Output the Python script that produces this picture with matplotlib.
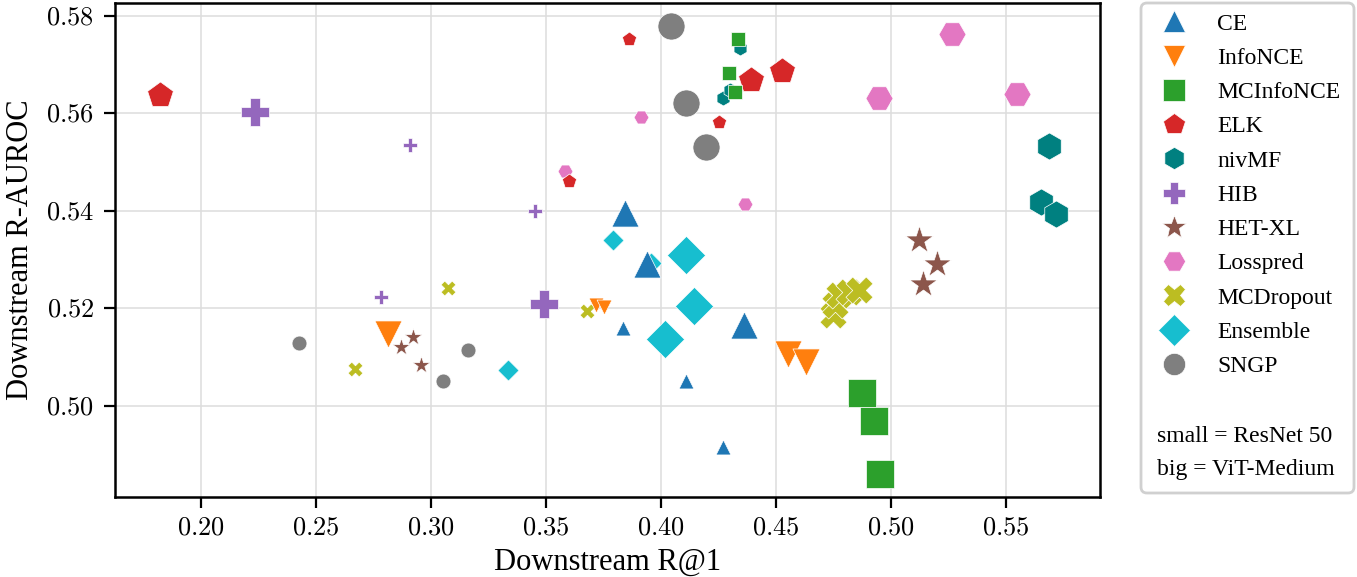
import numpy as np
import matplotlib
matplotlib.use("Agg")
import matplotlib.pyplot as plt
from matplotlib.lines import Line2D
from matplotlib.patches import FancyBboxPatch
from matplotlib.transforms import IdentityTransform

plt.rcParams['font.family'] = ['Liberation Serif', 'DejaVu Serif']
plt.rcParams['mathtext.fontset'] = 'cm'

# methods in legend order
methods = ['CE', 'InfoNCE', 'MCInfoNCE', 'ELK', 'nivMF', 'HIB', 'HET-XL',
           'Losspred', 'MCDropout', 'Ensemble', 'SNGP']
markers = ['^', 'v', 's', 'p', 'h', 'P', '*', 'H', 'X', 'D', 'o']
colors = ['#1f77b4', '#ff7f0e', '#2ca02c', '#d62728', '#008080', '#9467bd',
          '#8c564b', '#e377c2', '#bcbd22', '#17becf', '#7f7f7f']

# ResNet 50 (small markers): R@1, R-AUROC
small_x = {
    'CE': [0.3836, 0.4109, 0.4271],
    'InfoNCE': [0.3717, 0.3752],
    'MCInfoNCE': [0.4336, 0.4296, 0.4322],
    'ELK': [0.3862, 0.4252, 0.3601],
    'nivMF': [0.4343, 0.4268, 0.4300],
    'HIB': [0.2909, 0.3452, 0.2781],
    'HET-XL': [0.2868, 0.2923, 0.2955],
    'Losspred': [0.3912, 0.3583, 0.4365],
    'MCDropout': [0.3075, 0.2670, 0.3677],
    'Ensemble': [0.3793, 0.3336, 0.3957],
    'SNGP': [0.2426, 0.3160, 0.3053],
}
small_y = {
    'CE': [0.5159, 0.5050, 0.4916],
    'InfoNCE': [0.5206, 0.5202],
    'MCInfoNCE': [0.5753, 0.5683, 0.5644],
    'ELK': [0.5752, 0.5583, 0.5461],
    'nivMF': [0.5733, 0.5632, 0.5648],
    'HIB': [0.5534, 0.5399, 0.5223],
    'HET-XL': [0.5120, 0.5142, 0.5083],
    'Losspred': [0.5592, 0.5481, 0.5414],
    'MCDropout': [0.5242, 0.5075, 0.5194],
    'Ensemble': [0.5341, 0.5074, 0.5292],
    'SNGP': [0.5128, 0.5115, 0.5050],
}

# ViT-Medium (big markers)
big_x = {
    'CE': [0.3843, 0.3939, 0.4361],
    'InfoNCE': [0.2814, 0.4553, 0.4630],
    'MCInfoNCE': [0.4875, 0.4925, 0.4953],
    'ELK': [0.1822, 0.4390, 0.4525],
    'nivMF': [0.5688, 0.5651, 0.5717],
    'HIB': [0.2236, 0.3493],
    'HET-XL': [0.5123, 0.5201, 0.5138],
    'Losspred': [0.5264, 0.4949, 0.5549],
    'MCDropout': [0.4748, 0.4757, 0.4774, 0.4817, 0.4861],
    'Ensemble': [0.4109, 0.4145, 0.4019],
    'SNGP': [0.4042, 0.4109, 0.4194],
}
big_y = {
    'CE': [0.5395, 0.5291, 0.5165],
    'InfoNCE': [0.5148, 0.5107, 0.5089],
    'MCInfoNCE': [0.5027, 0.4968, 0.4861],
    'ELK': [0.5637, 0.5668, 0.5686],
    'nivMF': [0.5533, 0.5418, 0.5394],
    'HIB': [0.5603, 0.5209],
    'HET-XL': [0.5340, 0.5291, 0.5249],
    'Losspred': [0.5762, 0.5631, 0.5639],
    'MCDropout': [0.5187, 0.5206, 0.5227, 0.5233, 0.5237],
    'Ensemble': [0.5310, 0.5204, 0.5138],
    'SNGP': [0.5779, 0.5620, 0.5531],
}

W, H = 1357, 577
fig = plt.figure(figsize=(W / 100, H / 100), dpi=100)
ax = fig.add_axes([115 / W, 1 - 497 / H, 985 / W, 494 / H])

# draw last method first so the legend order ends on top
for m, mk, c in reversed(list(zip(methods, markers, colors))):
    k = 1.5 if mk == '*' else 1.0
    ax.scatter(small_x[m], small_y[m], s=115 * k, marker=mk, color=c,
               edgecolor='white', linewidth=0.5, zorder=3)
    ax.scatter(big_x[m], big_y[m], s=380 * (1.15 if mk == '*' else 1.0),
               marker=mk, color=c, edgecolor='white', linewidth=0.5, zorder=3)

ax.set_xlim(0.1626, 0.5909)
ax.set_ylim(0.4813, 0.5826)
ax.set_xticks([0.20, 0.25, 0.30, 0.35, 0.40, 0.45, 0.50, 0.55])
ax.set_yticks([0.50, 0.52, 0.54, 0.56, 0.58])
ax.xaxis.set_major_formatter(plt.FuncFormatter(lambda v, p: '$%.2f$' % v))
ax.yaxis.set_major_formatter(plt.FuncFormatter(lambda v, p: '$%.2f$' % v))
ax.tick_params(labelsize=19, length=8, width=1.6, pad=7)
ax.grid(True, color='#dddddd', linewidth=1.1, zorder=0)
ax.set_axisbelow(True)
for sp in ax.spines.values():
    sp.set_linewidth(1.8)

ax.set_xlabel('Downstream R@1', fontsize=22, labelpad=6)
ax.set_ylabel('Downstream R-AUROC', fontsize=22, labelpad=8)

handles = [Line2D([], [], linestyle='none', marker=mk, color=c,
                  markersize=18 if mk == '*' else 16,
                  markeredgecolor='white', markeredgewidth=0.5)
           for mk, c in zip(markers, colors)]
fig.legend(handles, methods, loc='upper left',
           bbox_to_anchor=(1156 / W, 1 - 13 / H), frameon=False,
           fontsize=17, borderpad=0, borderaxespad=0,
           handlelength=1.5, handletextpad=1.1, labelspacing=0.54)

fig.text(1157 / W, 1 - 437 / H, 'small = ResNet 50', fontsize=17,
         va='center', ha='left')
fig.text(1157 / W, 1 - 470 / H, 'big = ViT-Medium', fontsize=17,
         va='center', ha='left')

box = FancyBboxPatch((1141, H - 493), 213, 490,
                     boxstyle='round,pad=0,rounding_size=6',
                     transform=IdentityTransform(), facecolor='none',
                     edgecolor='#d0d0d0', linewidth=2)
fig.patches.append(box)

fig.savefig('out.png', dpi=100)
